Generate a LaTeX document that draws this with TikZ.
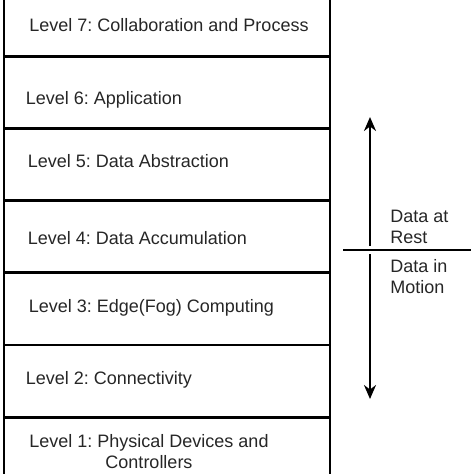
\documentclass[tikz,border=0pt]{standalone}
\usepackage{fontspec}
\setmainfont{Liberation Sans}
\usepackage{tikz}
\usetikzlibrary{positioning,arrows.meta}
\frenchspacing

\tikzset{
  lvbox/.style={rectangle, draw, line width=2.8pt, outer sep=0pt,
    minimum width=326pt, minimum height=72.2pt, inner sep=0pt},
  lvtext/.style={anchor=base west, inner sep=0pt, font=\fontsize{18}{21}\selectfont, text=black!85},
  datatext/.style={inner sep=0pt, align=left, font=\fontsize{18}{21}\selectfont, text=black!85}
}

\begin{document}
\begin{tikzpicture}[x=1pt, y=-1pt, line width=2.8pt]
  \useasboundingbox (0,0) rectangle (474,474);
  % the seven levels
  \node (lv7) [lvbox] at (167,20) {};
  \node (lv6) [lvbox, below=0pt of lv7] {};
  \node (lv5) [lvbox, below=0pt of lv6] {};
  \node (lv4) [lvbox, below=0pt of lv5] {};
  \node (lv3) [lvbox, below=0pt of lv4] {};
  \node (lv2) [lvbox, below=0pt of lv3] {};
  \node (lv1) [lvbox, below=0pt of lv2] {};
  \node (t7) [lvtext] at (28,31) {Level 7: Collaboration and Process};
  \node (t6) [lvtext] at (24.5,104) {Level 6: Application};
  \node (t5) [lvtext] at (26.5,167) {Level 5: Data Abstraction};
  \node (t4) [lvtext] at (26.5,244) {Level 4: Data Accumulation};
  \node (t3) [lvtext] at (27.5,312) {Level 3: Edge(Fog) Computing};
  \node (t2) [lvtext] at (24.5,384) {Level 2: Connectivity};
  \node (t1) [datatext, align=center] at (149,452) {Level 1: Physical Devices and\\Controllers};
  % data at rest / in motion
  \coordinate (divl) at (343,250);
  \coordinate (divr) at (471,250);
  \coordinate (upend) at (370,246);
  \coordinate (uptip) at (370,117);
  \coordinate (downend) at (370,254);
  \coordinate (downtip) at (370,399);
  \draw (divl) -- (divr);
  \draw[-{Stealth[length=14pt,width=12pt]}] (upend) -- (uptip);
  \draw[-{Stealth[length=14pt,width=12pt]}] (downend) -- (downtip);
  \node (rest) [datatext, anchor=south west] at (389,245) {Data at\\Rest};
  \node (motion) [datatext, anchor=north west] at (389,258) {Data in\\Motion};
\end{tikzpicture}
\end{document}
